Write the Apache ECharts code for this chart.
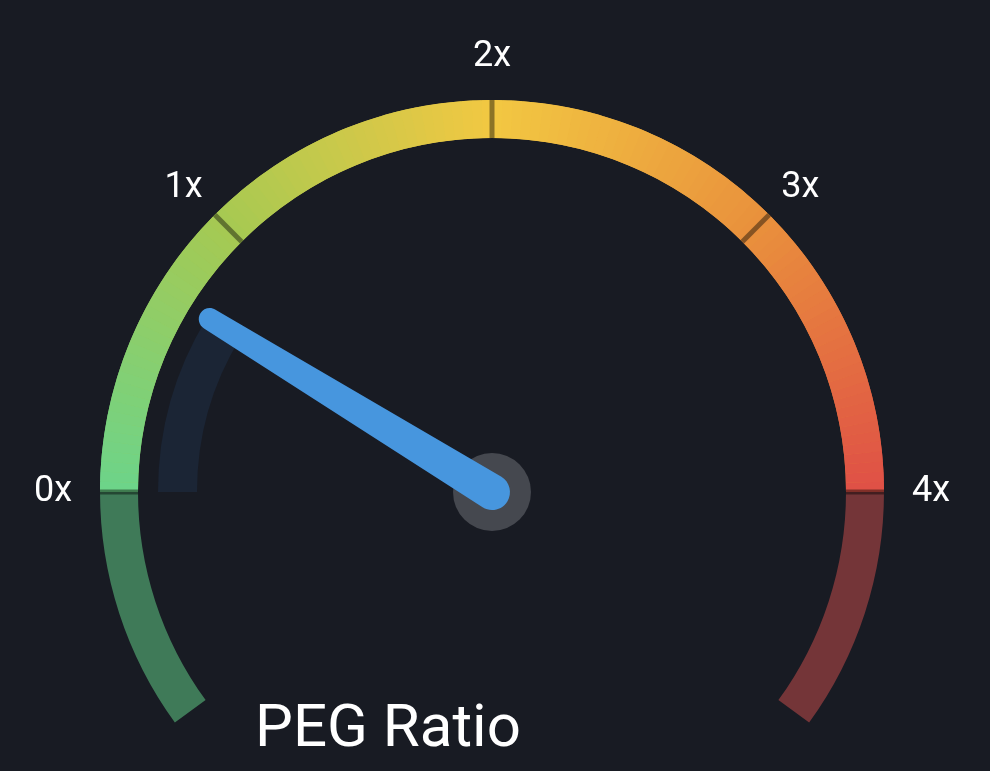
<!DOCTYPE html>
<html>
<head>
<meta charset="utf-8">
<title>PEG Ratio</title>
<script src="https://cdn.jsdelivr.net/npm/echarts@6/dist/echarts.min.js"></script>
<style>
  html, body { margin: 0; padding: 0; background: #181b23; }
  #chart { width: 990px; height: 771px; }
</style>
</head>
<body>
<div id="chart"></div>
<script>
// scale and values
var scaleMin = 0;
var scaleMax = 4;
var tickLabels = ['0x', '1x', '2x', '3x', '4x'];
var pegRatio = [{ value: 0.7, name: 'PEG Ratio' }];

// colour keys along the arc (left -> right)
var arcKeys = [
  [0.0, [108, 212, 138]],
  [0.25, [166, 201, 82]],
  [0.5, [242, 200, 66]],
  [0.75, [233, 144, 60]],
  [1.0, [223, 80, 70]]
];

function arcColor(t) {
  for (var i = 1; i < arcKeys.length; i++) {
    if (t <= arcKeys[i][0]) {
      var a = arcKeys[i - 1], b = arcKeys[i];
      var k = (t - a[0]) / (b[0] - a[0]);
      var c = a[1].map(function(v, j) { return Math.round(v + (b[1][j] - v) * k); });
      return 'rgb(' + c.join(',') + ')';
    }
  }
  return 'rgb(' + arcKeys[arcKeys.length - 1][1].join(',') + ')';
}

// stepped angular colours
var stops = [];
var steps = 120;
for (var s = 1; s <= steps; s++) {
  stops.push([s / steps, arcColor((s - 0.5) / steps)]);
}

// horizontal gradient underneath, so the seams between steps don't show
var gradStops = [];
for (var g = 0; g <= 24; g++) {
  var t = g / 24;
  gradStops.push({ offset: (1 - Math.cos(Math.PI * t)) / 2, color: arcColor(t) });
}
var baseGradient = new echarts.graphic.LinearGradient(0, 0, 1, 0, gradStops);

var center = [492, 492];
var font = 'Roboto, "Noto Sans", sans-serif';

function bare(extra) {
  var base = {
    type: 'gauge',
    center: center,
    min: scaleMin,
    max: scaleMax,
    splitNumber: tickLabels.length - 1,
    axisTick: { show: false },
    splitLine: { show: false },
    axisLabel: { show: false },
    pointer: { show: false },
    anchor: { show: false },
    title: { show: false },
    detail: { show: false },
    silent: true,
    animation: false
  };
  return Object.assign(base, extra);
}

function labels(radius, which, lineHeight, prefix) {
  return bare({
    startAngle: 180, endAngle: 0, radius: radius,
    axisLine: { show: false, lineStyle: { width: 0 } },
    splitLine: { show: false, length: 0, distance: 0 },
    axisLabel: {
      show: true, distance: 0, color: '#ffffff', fontSize: 36, fontFamily: font,
      lineHeight: lineHeight,
      formatter: function(v) {
        var i = Math.round(v);
        return which.indexOf(i) >= 0 ? prefix + tickLabels[i] : '';
      }
    }
  });
}

var option = {
  backgroundColor: '#181b23',
  series: [
    // dim extensions below the horizon
    bare({
      startAngle: 216, endAngle: 180, radius: 392,
      axisLine: { lineStyle: { width: 38, color: [[1, '#3f7a58']] } }
    }),
    bare({
      startAngle: 0, endAngle: -36, radius: 392,
      axisLine: { lineStyle: { width: 38, color: [[1, '#743538']] } }
    }),
    // main coloured arc
    bare({
      startAngle: 180, endAngle: 0, radius: 392,
      axisLine: { lineStyle: { width: 38, color: [[1, baseGradient]] } }
    }),
    bare({
      startAngle: 180, endAngle: 0, radius: 392,
      axisLine: { lineStyle: { width: 38, color: stops } },
      splitLine: { show: true, length: 38, distance: -38, lineStyle: { color: 'rgba(0,0,0,0.42)', width: 5 } }
    }),
    // tick labels
    labels(458, [0, 4], 36, ''),
    labels(453, [2], 36, ''),
    labels(463, [1, 3], 46, '\n'),
    // dark progress track up to the value
    bare({
      startAngle: 180, endAngle: 0, radius: 334, z: 1,
      axisLine: { show: false, lineStyle: { width: 0 } },
      progress: { show: true, width: 39, itemStyle: { color: '#1b2535' } },
      data: pegRatio
    }),
    // needle + title
    bare({
      startAngle: 180, endAngle: 0, radius: 334, z: 10,
      axisLine: { show: false, lineStyle: { width: 0 } },
      pointer: {
        show: true,
        icon: 'path://M7,11 C7,4.925 11.925,0 18,0 C24.075,0 29,4.925 29,11 L36,342 C36,351.94 27.94,360 18,360 C8.06,360 0,351.94 0,342 Z',
        length: 360,
        width: 36,
        offsetCenter: [0, 18],
        keepAspect: false,
        itemStyle: { color: '#4796de' }
      },
      anchor: {
        show: true, showAbove: false, size: 78, icon: 'circle',
        itemStyle: { color: '#45484f' }
      },
      title: {
        show: true, offsetCenter: [-104, 239], color: '#ffffff',
        fontSize: 60, fontFamily: font
      },
      data: pegRatio
    })
  ]
};

var chart = echarts.init(document.getElementById('chart'));
chart.setOption(option);
</script>
</body>
</html>
